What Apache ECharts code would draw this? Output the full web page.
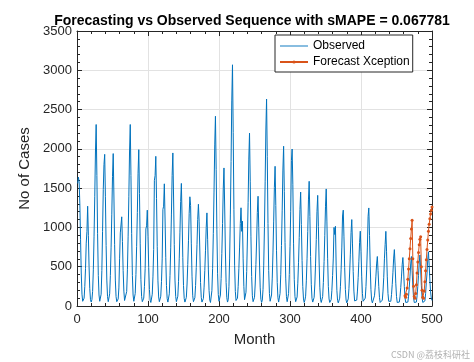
<!DOCTYPE html>
<html><head><meta charset="utf-8">
<script src="https://cdn.jsdelivr.net/npm/echarts@6/dist/echarts.min.js"></script>
<style>html,body{margin:0;padding:0;background:#fff}#c{width:474px;height:362px}</style>
</head><body><div id="c"></div>
<script>
// Observed monthly cases, month 1..500
const observedStartMonth = 1;
const observed = [
1560,1640,1580,1300,850,420,150,60,80,100,250,480,
800,950,1270,900,500,220,80,50,80,185,460,880,
1390,1960,2310,1660,920,390,140,60,80,150,450,950,
1480,1800,1930,1390,770,330,120,55,75,155,390,740,
1160,1650,1940,1400,780,330,120,55,75,90,230,600,
930,940,1135,820,450,190,70,45,70,185,460,880,
1390,1960,2310,1660,920,390,140,60,80,160,400,760,
1190,1690,1990,1430,800,340,120,55,75,100,250,480,
980,1020,1220,880,490,210,75,45,70,150,380,720,
1600,1660,1905,1370,760,320,115,55,75,125,310,600,
1230,1270,1555,1120,620,260,95,50,75,155,390,740,
1170,1660,1948,1400,780,330,120,55,75,125,310,600,
940,1330,1560,1120,620,260,95,50,75,110,280,530,
830,1180,1390,1280,800,380,130,55,75,105,260,490,
780,1100,1295,1080,700,300,110,50,70,95,240,450,
710,1000,1185,850,470,200,75,45,70,195,480,920,
1450,2050,2415,1740,970,410,145,60,80,140,350,670,
1050,1490,1757,1260,700,300,105,50,80,245,610,1170,
1840,2610,3070,2210,1230,520,185,70,80,100,250,480,
750,1050,1250,950,1080,600,250,80,70,175,440,840,
1320,1870,2200,1580,880,375,130,55,75,110,280,530,
840,1190,1397,1000,560,240,85,45,75,210,520,1000,
1580,2240,2634,1900,1050,450,160,60,80,140,355,675,
1070,1510,1778,1280,710,300,105,50,75,160,405,770,
1220,1730,2033,1460,810,345,120,55,75,160,400,760,
1200,1850,1998,1550,800,340,120,55,75,115,290,550,
870,1230,1450,1040,580,250,90,45,75,125,320,600,
950,1350,1587,1140,630,270,95,50,75,110,280,535,
845,1200,1408,1010,560,240,85,45,70,120,300,565,
900,1270,1490,1070,600,250,90,45,70,80,200,390,
610,1000,910,1015,520,200,70,40,65,100,245,460,
750,1145,1220,880,490,210,75,40,65,90,220,420,
660,935,1100,790,440,190,65,40,60,75,190,360,
570,810,952,690,380,160,60,35,55,100,250,470,
750,1140,1248,900,500,210,75,40,55,50,130,240,
380,535,630,450,250,110,45,30,45,75,190,360,
600,780,950,690,380,160,60,35,50,60,145,275,
430,610,718,520,290,120,45,30,45,50,125,235,
370,525,617,445,250,105,45,30,45,50,125,240,
380,535,630,455,250,110,45,30,45,50,130,250,
390,550,650,470,260,110,45,30,45,65,160,300,
420,590,690,520,330,180,100,70
];
// Forecast (Xception), month 462..500
const forecastStartMonth = 462;
const forecast = [
130,110,150,230,340,470,600,730,860,980,1090,600,250,120,100,160,270,420,560,680,
780,850,880,500,200,110,100,190,310,450,590,720,840,950,1040,1110,1170,1220,1260
];
const xMin = 0, xMax = 500, xStep = 100;
const yMin = 0, yMax = 3500, yStep = 500;
const titleText = 'Forecasting vs Observed Sequence with sMAPE = 0.067781';
const seriesNames = ['Observed', 'Forecast Xception'];

const FF = '"Liberation Sans", Arial, Helvetica, sans-serif';
const AX = '#262626';
const obsData = observed.map((v, i) => [observedStartMonth + i, v]);
const fcData = forecast.map((v, i) => [forecastStartMonth + i, v]);

function xAxisDef(pos, main) {
  return {
    type: 'value', min: xMin, max: xMax, interval: xStep, position: pos,
    axisLine: { show: true, onZero: false, lineStyle: { color: AX, width: 1 } },
    axisTick: { show: true, inside: true, length: 5, lineStyle: { color: AX } },
    minorTick: { show: true, splitNumber: 5, length: 3, lineStyle: { color: AX } },
    axisLabel: { show: main, color: AX, fontSize: 13, fontFamily: FF, margin: 7, formatter: v => String(v) },
    splitLine: { show: main, lineStyle: { color: '#e2e2e2', width: 1 } },
    minorSplitLine: { show: false },
    name: main ? 'Month' : '', nameLocation: 'middle', nameGap: 26,
    nameTextStyle: { fontSize: 15, color: AX, fontFamily: FF }
  };
}
function yAxisDef(pos, main) {
  return {
    type: 'value', min: yMin, max: yMax, interval: yStep, position: pos,
    axisLine: { show: true, onZero: false, lineStyle: { color: AX, width: 1 } },
    axisTick: { show: true, inside: true, length: 5, lineStyle: { color: AX } },
    minorTick: { show: true, splitNumber: 5, length: 3, lineStyle: { color: AX } },
    axisLabel: { show: main, color: AX, fontSize: 13, fontFamily: FF, margin: 5, formatter: v => String(v) },
    splitLine: { show: main, lineStyle: { color: '#e2e2e2', width: 1 } },
    name: main ? 'No of Cases' : '', nameLocation: 'middle', nameGap: 32,
    nameTextStyle: { fontSize: 15, color: AX, fontFamily: FF }
  };
}

const chart = echarts.init(document.getElementById('c'), null, { renderer: 'canvas' });
chart.setOption({
  animation: false,
  backgroundColor: '#fff',
  title: {
    text: titleText, left: 247, top: 9, textAlign: 'center',
    textStyle: { fontSize: 14, fontWeight: 'bold', color: '#000', fontFamily: FF }
  },
  grid: { left: 77, right: 42, top: 31, bottom: 56, containLabel: false },
  legend: {
    left: 275, top: 35, orient: 'vertical',
    itemWidth: 28, itemHeight: 4, itemGap: 2,
    padding: [4, 3, 3, 4],
    borderColor: AX, borderWidth: 1, backgroundColor: '#fff',
    textStyle: { fontSize: 12, color: '#000', fontFamily: FF, lineHeight: 14 },
    data: [
      { name: seriesNames[0], icon: 'path://M0,0H30V1H0Z' },
      { name: seriesNames[1] }
    ]
  },
  xAxis: [xAxisDef('bottom', true), xAxisDef('top', false)],
  yAxis: [yAxisDef('left', true), yAxisDef('right', false)],
  series: [
    {
      name: seriesNames[0], type: 'line', data: obsData, xAxisIndex: 0, yAxisIndex: 0,
      symbol: 'none', lineStyle: { color: '#0072BD', width: 1 }, itemStyle: { color: '#0072BD' },
      z: 2
    },
    {
      name: seriesNames[1], type: 'line', data: fcData, xAxisIndex: 0, yAxisIndex: 0,
      symbol: 'circle', symbolSize: 3, showSymbol: true,
      lineStyle: { color: '#D95319', width: 1 }, itemStyle: { color: '#D95319' },
      z: 3
    }
  ],
  graphic: [{
    type: 'text', right: 4, bottom: 3,
    style: { text: 'CSDN @荔枝科研社', fill: '#b0b0b0', fontSize: 9, fontFamily: '"Noto Sans CJK SC", sans-serif' }
  }]
});
</script></body></html>
